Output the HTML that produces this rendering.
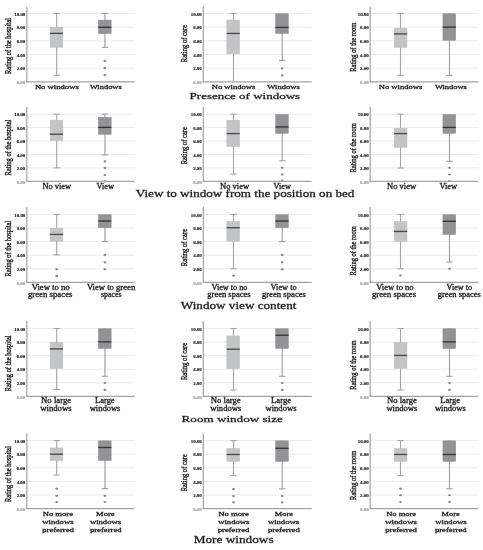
<!DOCTYPE html>
<html><head><meta charset="utf-8"><style>
html,body{margin:0;padding:0;background:#fff;}
svg{display:block;filter:blur(0.35px);}
text{font-family:"Liberation Serif", "DejaVu Serif", serif;}
</style></head><body>
<svg width="483" height="550" viewBox="0 0 483 550">
<rect width="483" height="550" fill="#fff"/>
<line x1="26.8" y1="68.14" x2="134.6" y2="68.14" stroke="#ebebeb" stroke-width="1"/>
<line x1="26.8" y1="54.48" x2="134.6" y2="54.48" stroke="#ebebeb" stroke-width="1"/>
<line x1="26.8" y1="40.82" x2="134.6" y2="40.82" stroke="#ebebeb" stroke-width="1"/>
<line x1="26.8" y1="27.16" x2="134.6" y2="27.16" stroke="#ebebeb" stroke-width="1"/>
<line x1="26.8" y1="13.5" x2="134.6" y2="13.5" stroke="#ebebeb" stroke-width="1"/>
<text x="25.3" y="84" font-size="4.9" font-weight="bold" fill="#a0a0a0" stroke="#a0a0a0" stroke-width="0.15" text-anchor="end" textLength="8.6" lengthAdjust="spacingAndGlyphs">0.00</text>
<text x="25.3" y="70.34" font-size="4.9" font-weight="bold" fill="#1e1e1e" stroke="#1e1e1e" stroke-width="0.15" text-anchor="end" textLength="8.6" lengthAdjust="spacingAndGlyphs">2.00</text>
<text x="25.3" y="56.68" font-size="4.9" font-weight="bold" fill="#1e1e1e" stroke="#1e1e1e" stroke-width="0.15" text-anchor="end" textLength="8.6" lengthAdjust="spacingAndGlyphs">4.00</text>
<text x="25.3" y="43.02" font-size="4.9" font-weight="bold" fill="#1e1e1e" stroke="#1e1e1e" stroke-width="0.15" text-anchor="end" textLength="8.6" lengthAdjust="spacingAndGlyphs">6.00</text>
<text x="25.3" y="29.36" font-size="4.9" font-weight="bold" fill="#1e1e1e" stroke="#1e1e1e" stroke-width="0.15" text-anchor="end" textLength="8.6" lengthAdjust="spacingAndGlyphs">8.00</text>
<text x="25.3" y="15.7" font-size="4.9" font-weight="bold" fill="#1e1e1e" stroke="#1e1e1e" stroke-width="0.15" text-anchor="end" textLength="11" lengthAdjust="spacingAndGlyphs">10.00</text>
<line x1="56.7" y1="13.5" x2="56.7" y2="75.38" stroke="#a4a4a4" stroke-width="1.1"/>
<line x1="53.5" y1="75.38" x2="59.9" y2="75.38" stroke="#a4a4a4" stroke-width="1.1"/>
<line x1="53.5" y1="13.5" x2="59.9" y2="13.5" stroke="#a4a4a4" stroke-width="1.1"/>
<rect x="50.15" y="27.27" width="12.7" height="19.99" fill="#c3c4c6" stroke="#bdbdbd" stroke-width="0.5"/>
<line x1="49.9" y1="33.38" x2="63.1" y2="33.38" stroke="#4a4a4a" stroke-width="1.35"/>
<line x1="104.9" y1="13.5" x2="104.9" y2="47.38" stroke="#9c9c9c" stroke-width="1.1"/>
<line x1="101.7" y1="47.38" x2="108.1" y2="47.38" stroke="#9c9c9c" stroke-width="1.1"/>
<line x1="101.7" y1="13.5" x2="108.1" y2="13.5" stroke="#9c9c9c" stroke-width="1.1"/>
<rect x="98.45" y="20.1" width="12.7" height="13.43" fill="#929397" stroke="#8c8c8c" stroke-width="0.5"/>
<line x1="98.2" y1="27.3" x2="111.4" y2="27.3" stroke="#363636" stroke-width="1.35"/>
<ellipse cx="104.9" cy="60.9" rx="1.45" ry="1.1" fill="#858585"/>
<ellipse cx="104.9" cy="68.21" rx="1.45" ry="1.1" fill="#858585"/>
<ellipse cx="104.9" cy="75.17" rx="1.45" ry="1.1" fill="#858585"/>
<line x1="26.8" y1="6.4" x2="26.8" y2="82.4" stroke="#a2a2a2" stroke-width="1.2"/>
<line x1="26.2" y1="81.8" x2="134.6" y2="81.8" stroke="#a2a2a2" stroke-width="1.2"/>
<text transform="translate(11.4,46.1) rotate(-90)" font-size="9" fill="#1a1a1a" stroke="#1a1a1a" stroke-width="0.35" text-anchor="middle" textLength="55.8" lengthAdjust="spacingAndGlyphs">Rating of the hospital</text>
<text x="34.9" y="88.7" font-size="7.0" fill="#1e1e1e" stroke="#1e1e1e" stroke-width="0.3" textLength="43.9" lengthAdjust="spacingAndGlyphs">No windows</text>
<text x="89.7" y="88.7" font-size="7.0" fill="#1e1e1e" stroke="#1e1e1e" stroke-width="0.3" textLength="32.1" lengthAdjust="spacingAndGlyphs">Windows</text>
<line x1="203.3" y1="68.14" x2="311.7" y2="68.14" stroke="#ebebeb" stroke-width="1"/>
<line x1="203.3" y1="54.48" x2="311.7" y2="54.48" stroke="#ebebeb" stroke-width="1"/>
<line x1="203.3" y1="40.82" x2="311.7" y2="40.82" stroke="#ebebeb" stroke-width="1"/>
<line x1="203.3" y1="27.16" x2="311.7" y2="27.16" stroke="#ebebeb" stroke-width="1"/>
<line x1="203.3" y1="13.5" x2="311.7" y2="13.5" stroke="#ebebeb" stroke-width="1"/>
<text x="201.8" y="84" font-size="4.9" font-weight="bold" fill="#a0a0a0" stroke="#a0a0a0" stroke-width="0.15" text-anchor="end" textLength="8.6" lengthAdjust="spacingAndGlyphs">0.00</text>
<text x="201.8" y="70.34" font-size="4.9" font-weight="bold" fill="#1e1e1e" stroke="#1e1e1e" stroke-width="0.15" text-anchor="end" textLength="8.6" lengthAdjust="spacingAndGlyphs">2.00</text>
<text x="201.8" y="56.68" font-size="4.9" font-weight="bold" fill="#1e1e1e" stroke="#1e1e1e" stroke-width="0.15" text-anchor="end" textLength="8.6" lengthAdjust="spacingAndGlyphs">4.00</text>
<text x="201.8" y="43.02" font-size="4.9" font-weight="bold" fill="#1e1e1e" stroke="#1e1e1e" stroke-width="0.15" text-anchor="end" textLength="8.6" lengthAdjust="spacingAndGlyphs">6.00</text>
<text x="201.8" y="29.36" font-size="4.9" font-weight="bold" fill="#1e1e1e" stroke="#1e1e1e" stroke-width="0.15" text-anchor="end" textLength="8.6" lengthAdjust="spacingAndGlyphs">8.00</text>
<text x="201.8" y="15.7" font-size="4.9" font-weight="bold" fill="#1e1e1e" stroke="#1e1e1e" stroke-width="0.15" text-anchor="end" textLength="11" lengthAdjust="spacingAndGlyphs">10.00</text>
<line x1="233.5" y1="13.5" x2="233.5" y2="81.8" stroke="#a4a4a4" stroke-width="1.1"/>
<line x1="230.3" y1="13.5" x2="236.7" y2="13.5" stroke="#a4a4a4" stroke-width="1.1"/>
<rect x="226.85" y="20.03" width="12.7" height="33.79" fill="#c3c4c6" stroke="#bdbdbd" stroke-width="0.5"/>
<line x1="226.6" y1="33.44" x2="239.8" y2="33.44" stroke="#4a4a4a" stroke-width="1.35"/>
<line x1="282.2" y1="13.5" x2="282.2" y2="60.42" stroke="#9c9c9c" stroke-width="1.1"/>
<line x1="279" y1="60.42" x2="285.4" y2="60.42" stroke="#9c9c9c" stroke-width="1.1"/>
<rect x="275.65" y="13.75" width="12.7" height="19.65" fill="#929397" stroke="#8c8c8c" stroke-width="0.5"/>
<line x1="275.4" y1="27.43" x2="288.6" y2="27.43" stroke="#363636" stroke-width="1.35"/>
<ellipse cx="282.2" cy="68.41" rx="1.45" ry="1.1" fill="#858585"/>
<ellipse cx="282.2" cy="75.38" rx="1.45" ry="1.1" fill="#858585"/>
<line x1="203.3" y1="6.4" x2="203.3" y2="82.4" stroke="#a2a2a2" stroke-width="1.2"/>
<line x1="202.7" y1="81.8" x2="311.7" y2="81.8" stroke="#a2a2a2" stroke-width="1.2"/>
<text transform="translate(186.9,43.65) rotate(-90)" font-size="9" fill="#1a1a1a" stroke="#1a1a1a" stroke-width="0.35" text-anchor="middle" textLength="37.2" lengthAdjust="spacingAndGlyphs">Rating of care</text>
<text x="211.7" y="88.7" font-size="7.0" fill="#1e1e1e" stroke="#1e1e1e" stroke-width="0.3" textLength="43.6" lengthAdjust="spacingAndGlyphs">No windows</text>
<text x="267.3" y="88.7" font-size="7.0" fill="#1e1e1e" stroke="#1e1e1e" stroke-width="0.3" textLength="32.6" lengthAdjust="spacingAndGlyphs">Windows</text>
<line x1="370.2" y1="68.14" x2="478.3" y2="68.14" stroke="#ebebeb" stroke-width="1"/>
<line x1="370.2" y1="54.48" x2="478.3" y2="54.48" stroke="#ebebeb" stroke-width="1"/>
<line x1="370.2" y1="40.82" x2="478.3" y2="40.82" stroke="#ebebeb" stroke-width="1"/>
<line x1="370.2" y1="27.16" x2="478.3" y2="27.16" stroke="#ebebeb" stroke-width="1"/>
<line x1="370.2" y1="13.5" x2="478.3" y2="13.5" stroke="#ebebeb" stroke-width="1"/>
<text x="368.7" y="84" font-size="4.9" font-weight="bold" fill="#a0a0a0" stroke="#a0a0a0" stroke-width="0.15" text-anchor="end" textLength="8.6" lengthAdjust="spacingAndGlyphs">0.00</text>
<text x="368.7" y="70.34" font-size="4.9" font-weight="bold" fill="#1e1e1e" stroke="#1e1e1e" stroke-width="0.15" text-anchor="end" textLength="8.6" lengthAdjust="spacingAndGlyphs">2.00</text>
<text x="368.7" y="56.68" font-size="4.9" font-weight="bold" fill="#1e1e1e" stroke="#1e1e1e" stroke-width="0.15" text-anchor="end" textLength="8.6" lengthAdjust="spacingAndGlyphs">4.00</text>
<text x="368.7" y="43.02" font-size="4.9" font-weight="bold" fill="#1e1e1e" stroke="#1e1e1e" stroke-width="0.15" text-anchor="end" textLength="8.6" lengthAdjust="spacingAndGlyphs">6.00</text>
<text x="368.7" y="29.36" font-size="4.9" font-weight="bold" fill="#1e1e1e" stroke="#1e1e1e" stroke-width="0.15" text-anchor="end" textLength="8.6" lengthAdjust="spacingAndGlyphs">8.00</text>
<text x="368.7" y="15.7" font-size="4.9" font-weight="bold" fill="#1e1e1e" stroke="#1e1e1e" stroke-width="0.15" text-anchor="end" textLength="11" lengthAdjust="spacingAndGlyphs">10.00</text>
<line x1="400.5" y1="13.5" x2="400.5" y2="75.38" stroke="#a4a4a4" stroke-width="1.1"/>
<line x1="397.3" y1="75.38" x2="403.7" y2="75.38" stroke="#a4a4a4" stroke-width="1.1"/>
<line x1="397.3" y1="13.5" x2="403.7" y2="13.5" stroke="#a4a4a4" stroke-width="1.1"/>
<rect x="394.25" y="28.09" width="12.7" height="19.44" fill="#c3c4c6" stroke="#bdbdbd" stroke-width="0.5"/>
<line x1="394" y1="33.92" x2="407.2" y2="33.92" stroke="#4a4a4a" stroke-width="1.35"/>
<line x1="449.5" y1="13.5" x2="449.5" y2="75.38" stroke="#9c9c9c" stroke-width="1.1"/>
<line x1="446.3" y1="75.38" x2="452.7" y2="75.38" stroke="#9c9c9c" stroke-width="1.1"/>
<rect x="442.95" y="13.75" width="12.7" height="26.62" fill="#929397" stroke="#8c8c8c" stroke-width="0.5"/>
<line x1="442.7" y1="27.16" x2="455.9" y2="27.16" stroke="#363636" stroke-width="1.35"/>
<line x1="370.2" y1="6.4" x2="370.2" y2="82.4" stroke="#a2a2a2" stroke-width="1.2"/>
<line x1="369.6" y1="81.8" x2="478.3" y2="81.8" stroke="#a2a2a2" stroke-width="1.2"/>
<text transform="translate(356.2,47.2) rotate(-90)" font-size="9" fill="#1a1a1a" stroke="#1a1a1a" stroke-width="0.35" text-anchor="middle" textLength="49.2" lengthAdjust="spacingAndGlyphs">Rating of the room</text>
<text x="378.7" y="88.7" font-size="7.0" fill="#1e1e1e" stroke="#1e1e1e" stroke-width="0.3" textLength="43.6" lengthAdjust="spacingAndGlyphs">No windows</text>
<text x="434.9" y="88.7" font-size="7.0" fill="#1e1e1e" stroke="#1e1e1e" stroke-width="0.3" textLength="32" lengthAdjust="spacingAndGlyphs">Windows</text>
<text x="189.6" y="98.7" font-size="9.1" fill="#1e1e1e" stroke="#1e1e1e" stroke-width="0.27" textLength="110.6" lengthAdjust="spacingAndGlyphs">Presence of windows</text>
<line x1="26.8" y1="167.88" x2="134.6" y2="167.88" stroke="#ebebeb" stroke-width="1"/>
<line x1="26.8" y1="154.46" x2="134.6" y2="154.46" stroke="#ebebeb" stroke-width="1"/>
<line x1="26.8" y1="141.04" x2="134.6" y2="141.04" stroke="#ebebeb" stroke-width="1"/>
<line x1="26.8" y1="127.62" x2="134.6" y2="127.62" stroke="#ebebeb" stroke-width="1"/>
<line x1="26.8" y1="114.2" x2="134.6" y2="114.2" stroke="#ebebeb" stroke-width="1"/>
<text x="25.3" y="183.5" font-size="4.9" font-weight="bold" fill="#a0a0a0" stroke="#a0a0a0" stroke-width="0.15" text-anchor="end" textLength="8.6" lengthAdjust="spacingAndGlyphs">0.00</text>
<text x="25.3" y="170.08" font-size="4.9" font-weight="bold" fill="#1e1e1e" stroke="#1e1e1e" stroke-width="0.15" text-anchor="end" textLength="8.6" lengthAdjust="spacingAndGlyphs">2.00</text>
<text x="25.3" y="156.66" font-size="4.9" font-weight="bold" fill="#1e1e1e" stroke="#1e1e1e" stroke-width="0.15" text-anchor="end" textLength="8.6" lengthAdjust="spacingAndGlyphs">4.00</text>
<text x="25.3" y="143.24" font-size="4.9" font-weight="bold" fill="#1e1e1e" stroke="#1e1e1e" stroke-width="0.15" text-anchor="end" textLength="8.6" lengthAdjust="spacingAndGlyphs">6.00</text>
<text x="25.3" y="129.82" font-size="4.9" font-weight="bold" fill="#1e1e1e" stroke="#1e1e1e" stroke-width="0.15" text-anchor="end" textLength="8.6" lengthAdjust="spacingAndGlyphs">8.00</text>
<text x="25.3" y="116.4" font-size="4.9" font-weight="bold" fill="#1e1e1e" stroke="#1e1e1e" stroke-width="0.15" text-anchor="end" textLength="11" lengthAdjust="spacingAndGlyphs">10.00</text>
<line x1="56.7" y1="114.2" x2="56.7" y2="167.88" stroke="#a4a4a4" stroke-width="1.1"/>
<line x1="53.5" y1="167.88" x2="59.9" y2="167.88" stroke="#a4a4a4" stroke-width="1.1"/>
<line x1="53.5" y1="114.2" x2="59.9" y2="114.2" stroke="#a4a4a4" stroke-width="1.1"/>
<rect x="50.15" y="120.15" width="12.7" height="20.5" fill="#c3c4c6" stroke="#bdbdbd" stroke-width="0.5"/>
<line x1="49.9" y1="134.2" x2="63.1" y2="134.2" stroke="#4a4a4a" stroke-width="1.35"/>
<line x1="104.9" y1="114.2" x2="104.9" y2="154.93" stroke="#9c9c9c" stroke-width="1.1"/>
<line x1="101.7" y1="154.93" x2="108.1" y2="154.93" stroke="#9c9c9c" stroke-width="1.1"/>
<line x1="101.7" y1="114.2" x2="108.1" y2="114.2" stroke="#9c9c9c" stroke-width="1.1"/>
<rect x="98.45" y="117.27" width="12.7" height="17.08" fill="#929397" stroke="#8c8c8c" stroke-width="0.5"/>
<line x1="98.2" y1="127.42" x2="111.4" y2="127.42" stroke="#363636" stroke-width="1.35"/>
<ellipse cx="104.9" cy="161.37" rx="1.45" ry="1.1" fill="#858585"/>
<ellipse cx="104.9" cy="167.88" rx="1.45" ry="1.1" fill="#858585"/>
<ellipse cx="104.9" cy="174.99" rx="1.45" ry="1.1" fill="#858585"/>
<ellipse cx="104.9" cy="181.3" rx="1.45" ry="1.1" fill="#858585"/>
<line x1="26.8" y1="107" x2="26.8" y2="181.9" stroke="#a2a2a2" stroke-width="1.2"/>
<line x1="26.2" y1="181.3" x2="134.6" y2="181.3" stroke="#a2a2a2" stroke-width="1.2"/>
<text transform="translate(11.4,147.55) rotate(-90)" font-size="9" fill="#1a1a1a" stroke="#1a1a1a" stroke-width="0.35" text-anchor="middle" textLength="55.8" lengthAdjust="spacingAndGlyphs">Rating of the hospital</text>
<text x="42.4" y="188.8" font-size="7.5" fill="#1e1e1e" stroke="#1e1e1e" stroke-width="0.3" textLength="28.6" lengthAdjust="spacingAndGlyphs">No view</text>
<text x="96.4" y="188.8" font-size="7.5" fill="#1e1e1e" stroke="#1e1e1e" stroke-width="0.3" textLength="17.5" lengthAdjust="spacingAndGlyphs">View</text>
<line x1="203.3" y1="167.88" x2="311.7" y2="167.88" stroke="#ebebeb" stroke-width="1"/>
<line x1="203.3" y1="154.46" x2="311.7" y2="154.46" stroke="#ebebeb" stroke-width="1"/>
<line x1="203.3" y1="141.04" x2="311.7" y2="141.04" stroke="#ebebeb" stroke-width="1"/>
<line x1="203.3" y1="127.62" x2="311.7" y2="127.62" stroke="#ebebeb" stroke-width="1"/>
<line x1="203.3" y1="114.2" x2="311.7" y2="114.2" stroke="#ebebeb" stroke-width="1"/>
<text x="201.8" y="183.5" font-size="4.9" font-weight="bold" fill="#a0a0a0" stroke="#a0a0a0" stroke-width="0.15" text-anchor="end" textLength="8.6" lengthAdjust="spacingAndGlyphs">0.00</text>
<text x="201.8" y="170.08" font-size="4.9" font-weight="bold" fill="#1e1e1e" stroke="#1e1e1e" stroke-width="0.15" text-anchor="end" textLength="8.6" lengthAdjust="spacingAndGlyphs">2.00</text>
<text x="201.8" y="156.66" font-size="4.9" font-weight="bold" fill="#1e1e1e" stroke="#1e1e1e" stroke-width="0.15" text-anchor="end" textLength="8.6" lengthAdjust="spacingAndGlyphs">4.00</text>
<text x="201.8" y="143.24" font-size="4.9" font-weight="bold" fill="#1e1e1e" stroke="#1e1e1e" stroke-width="0.15" text-anchor="end" textLength="8.6" lengthAdjust="spacingAndGlyphs">6.00</text>
<text x="201.8" y="129.82" font-size="4.9" font-weight="bold" fill="#1e1e1e" stroke="#1e1e1e" stroke-width="0.15" text-anchor="end" textLength="8.6" lengthAdjust="spacingAndGlyphs">8.00</text>
<text x="201.8" y="116.4" font-size="4.9" font-weight="bold" fill="#1e1e1e" stroke="#1e1e1e" stroke-width="0.15" text-anchor="end" textLength="11" lengthAdjust="spacingAndGlyphs">10.00</text>
<line x1="233.5" y1="114.2" x2="233.5" y2="173.99" stroke="#a4a4a4" stroke-width="1.1"/>
<line x1="230.3" y1="173.99" x2="236.7" y2="173.99" stroke="#a4a4a4" stroke-width="1.1"/>
<line x1="230.3" y1="114.2" x2="236.7" y2="114.2" stroke="#a4a4a4" stroke-width="1.1"/>
<rect x="226.85" y="120.22" width="12.7" height="26.34" fill="#c3c4c6" stroke="#bdbdbd" stroke-width="0.5"/>
<line x1="226.6" y1="133.59" x2="239.8" y2="133.59" stroke="#4a4a4a" stroke-width="1.35"/>
<line x1="282.2" y1="114.2" x2="282.2" y2="160.83" stroke="#9c9c9c" stroke-width="1.1"/>
<line x1="279" y1="160.83" x2="285.4" y2="160.83" stroke="#9c9c9c" stroke-width="1.1"/>
<rect x="275.65" y="114.45" width="12.7" height="18.89" fill="#929397" stroke="#8c8c8c" stroke-width="0.5"/>
<line x1="275.4" y1="126.95" x2="288.6" y2="126.95" stroke="#363636" stroke-width="1.35"/>
<ellipse cx="282.2" cy="167.81" rx="1.45" ry="1.1" fill="#858585"/>
<ellipse cx="282.2" cy="174.52" rx="1.45" ry="1.1" fill="#858585"/>
<ellipse cx="282.2" cy="180.7" rx="1.45" ry="1.1" fill="#858585"/>
<line x1="203.3" y1="107" x2="203.3" y2="181.9" stroke="#a2a2a2" stroke-width="1.2"/>
<line x1="202.7" y1="181.3" x2="311.7" y2="181.3" stroke="#a2a2a2" stroke-width="1.2"/>
<text transform="translate(186.9,145.7) rotate(-90)" font-size="9" fill="#1a1a1a" stroke="#1a1a1a" stroke-width="0.35" text-anchor="middle" textLength="37.2" lengthAdjust="spacingAndGlyphs">Rating of care</text>
<text x="220.1" y="188.8" font-size="7.5" fill="#1e1e1e" stroke="#1e1e1e" stroke-width="0.3" textLength="29" lengthAdjust="spacingAndGlyphs">No view</text>
<text x="273.6" y="188.8" font-size="7.5" fill="#1e1e1e" stroke="#1e1e1e" stroke-width="0.3" textLength="17.2" lengthAdjust="spacingAndGlyphs">View</text>
<line x1="370.2" y1="167.88" x2="478.3" y2="167.88" stroke="#ebebeb" stroke-width="1"/>
<line x1="370.2" y1="154.46" x2="478.3" y2="154.46" stroke="#ebebeb" stroke-width="1"/>
<line x1="370.2" y1="141.04" x2="478.3" y2="141.04" stroke="#ebebeb" stroke-width="1"/>
<line x1="370.2" y1="127.62" x2="478.3" y2="127.62" stroke="#ebebeb" stroke-width="1"/>
<line x1="370.2" y1="114.2" x2="478.3" y2="114.2" stroke="#ebebeb" stroke-width="1"/>
<text x="368.7" y="183.5" font-size="4.9" font-weight="bold" fill="#a0a0a0" stroke="#a0a0a0" stroke-width="0.15" text-anchor="end" textLength="8.6" lengthAdjust="spacingAndGlyphs">0.00</text>
<text x="368.7" y="170.08" font-size="4.9" font-weight="bold" fill="#1e1e1e" stroke="#1e1e1e" stroke-width="0.15" text-anchor="end" textLength="8.6" lengthAdjust="spacingAndGlyphs">2.00</text>
<text x="368.7" y="156.66" font-size="4.9" font-weight="bold" fill="#1e1e1e" stroke="#1e1e1e" stroke-width="0.15" text-anchor="end" textLength="8.6" lengthAdjust="spacingAndGlyphs">4.00</text>
<text x="368.7" y="143.24" font-size="4.9" font-weight="bold" fill="#1e1e1e" stroke="#1e1e1e" stroke-width="0.15" text-anchor="end" textLength="8.6" lengthAdjust="spacingAndGlyphs">6.00</text>
<text x="368.7" y="129.82" font-size="4.9" font-weight="bold" fill="#1e1e1e" stroke="#1e1e1e" stroke-width="0.15" text-anchor="end" textLength="8.6" lengthAdjust="spacingAndGlyphs">8.00</text>
<text x="368.7" y="116.4" font-size="4.9" font-weight="bold" fill="#1e1e1e" stroke="#1e1e1e" stroke-width="0.15" text-anchor="end" textLength="11" lengthAdjust="spacingAndGlyphs">10.00</text>
<line x1="400.5" y1="114.2" x2="400.5" y2="168.08" stroke="#a4a4a4" stroke-width="1.1"/>
<line x1="397.3" y1="168.08" x2="403.7" y2="168.08" stroke="#a4a4a4" stroke-width="1.1"/>
<line x1="397.3" y1="114.2" x2="403.7" y2="114.2" stroke="#a4a4a4" stroke-width="1.1"/>
<rect x="394.25" y="128.14" width="12.7" height="19.23" fill="#c3c4c6" stroke="#bdbdbd" stroke-width="0.5"/>
<line x1="394" y1="133.59" x2="407.2" y2="133.59" stroke="#4a4a4a" stroke-width="1.35"/>
<line x1="449.5" y1="114.2" x2="449.5" y2="161.3" stroke="#9c9c9c" stroke-width="1.1"/>
<line x1="446.3" y1="161.3" x2="452.7" y2="161.3" stroke="#9c9c9c" stroke-width="1.1"/>
<rect x="442.95" y="114.45" width="12.7" height="18.89" fill="#929397" stroke="#8c8c8c" stroke-width="0.5"/>
<line x1="442.7" y1="127.42" x2="455.9" y2="127.42" stroke="#363636" stroke-width="1.35"/>
<ellipse cx="449.5" cy="167.81" rx="1.45" ry="1.1" fill="#858585"/>
<ellipse cx="449.5" cy="174.52" rx="1.45" ry="1.1" fill="#858585"/>
<ellipse cx="449.5" cy="181.03" rx="1.45" ry="1.1" fill="#858585"/>
<line x1="370.2" y1="107" x2="370.2" y2="181.9" stroke="#a2a2a2" stroke-width="1.2"/>
<line x1="369.6" y1="181.3" x2="478.3" y2="181.3" stroke="#a2a2a2" stroke-width="1.2"/>
<text transform="translate(356.2,147.9) rotate(-90)" font-size="9" fill="#1a1a1a" stroke="#1a1a1a" stroke-width="0.35" text-anchor="middle" textLength="49.2" lengthAdjust="spacingAndGlyphs">Rating of the room</text>
<text x="387.1" y="188.8" font-size="7.5" fill="#1e1e1e" stroke="#1e1e1e" stroke-width="0.3" textLength="29" lengthAdjust="spacingAndGlyphs">No view</text>
<text x="439.5" y="188.8" font-size="7.5" fill="#1e1e1e" stroke="#1e1e1e" stroke-width="0.3" textLength="17.6" lengthAdjust="spacingAndGlyphs">View</text>
<text x="135.8" y="197.4" font-size="9.5" fill="#1e1e1e" stroke="#1e1e1e" stroke-width="0.27" textLength="218.6" lengthAdjust="spacingAndGlyphs">View to window from the position on bed</text>
<line x1="26.8" y1="268.74" x2="134.6" y2="268.74" stroke="#ebebeb" stroke-width="1"/>
<line x1="26.8" y1="255.18" x2="134.6" y2="255.18" stroke="#ebebeb" stroke-width="1"/>
<line x1="26.8" y1="241.62" x2="134.6" y2="241.62" stroke="#ebebeb" stroke-width="1"/>
<line x1="26.8" y1="228.06" x2="134.6" y2="228.06" stroke="#ebebeb" stroke-width="1"/>
<line x1="26.8" y1="214.5" x2="134.6" y2="214.5" stroke="#ebebeb" stroke-width="1"/>
<text x="25.3" y="284.5" font-size="4.9" font-weight="bold" fill="#a0a0a0" stroke="#a0a0a0" stroke-width="0.15" text-anchor="end" textLength="8.6" lengthAdjust="spacingAndGlyphs">0.00</text>
<text x="25.3" y="270.94" font-size="4.9" font-weight="bold" fill="#1e1e1e" stroke="#1e1e1e" stroke-width="0.15" text-anchor="end" textLength="8.6" lengthAdjust="spacingAndGlyphs">2.00</text>
<text x="25.3" y="257.38" font-size="4.9" font-weight="bold" fill="#1e1e1e" stroke="#1e1e1e" stroke-width="0.15" text-anchor="end" textLength="8.6" lengthAdjust="spacingAndGlyphs">4.00</text>
<text x="25.3" y="243.82" font-size="4.9" font-weight="bold" fill="#1e1e1e" stroke="#1e1e1e" stroke-width="0.15" text-anchor="end" textLength="8.6" lengthAdjust="spacingAndGlyphs">6.00</text>
<text x="25.3" y="230.26" font-size="4.9" font-weight="bold" fill="#1e1e1e" stroke="#1e1e1e" stroke-width="0.15" text-anchor="end" textLength="8.6" lengthAdjust="spacingAndGlyphs">8.00</text>
<text x="25.3" y="216.7" font-size="4.9" font-weight="bold" fill="#1e1e1e" stroke="#1e1e1e" stroke-width="0.15" text-anchor="end" textLength="11" lengthAdjust="spacingAndGlyphs">10.00</text>
<line x1="56.7" y1="214.5" x2="56.7" y2="254.91" stroke="#a4a4a4" stroke-width="1.1"/>
<line x1="53.5" y1="254.91" x2="59.9" y2="254.91" stroke="#a4a4a4" stroke-width="1.1"/>
<line x1="53.5" y1="214.5" x2="59.9" y2="214.5" stroke="#a4a4a4" stroke-width="1.1"/>
<rect x="50.15" y="228.17" width="12.7" height="12.99" fill="#c3c4c6" stroke="#bdbdbd" stroke-width="0.5"/>
<line x1="49.9" y1="234.43" x2="63.1" y2="234.43" stroke="#4a4a4a" stroke-width="1.35"/>
<ellipse cx="56.7" cy="269.28" rx="1.45" ry="1.1" fill="#858585"/>
<ellipse cx="56.7" cy="275.93" rx="1.45" ry="1.1" fill="#858585"/>
<line x1="104.9" y1="214.5" x2="104.9" y2="241.42" stroke="#9c9c9c" stroke-width="1.1"/>
<line x1="101.7" y1="241.42" x2="108.1" y2="241.42" stroke="#9c9c9c" stroke-width="1.1"/>
<rect x="98.45" y="214.75" width="12.7" height="12.92" fill="#929397" stroke="#8c8c8c" stroke-width="0.5"/>
<line x1="98.2" y1="221.01" x2="111.4" y2="221.01" stroke="#363636" stroke-width="1.35"/>
<ellipse cx="104.9" cy="254.91" rx="1.45" ry="1.1" fill="#858585"/>
<ellipse cx="104.9" cy="262.3" rx="1.45" ry="1.1" fill="#858585"/>
<ellipse cx="104.9" cy="269.28" rx="1.45" ry="1.1" fill="#858585"/>
<line x1="26.8" y1="207" x2="26.8" y2="282.9" stroke="#a2a2a2" stroke-width="1.2"/>
<line x1="26.2" y1="282.3" x2="134.6" y2="282.3" stroke="#a2a2a2" stroke-width="1.2"/>
<text transform="translate(11.4,248.65) rotate(-90)" font-size="9" fill="#1a1a1a" stroke="#1a1a1a" stroke-width="0.35" text-anchor="middle" textLength="55.8" lengthAdjust="spacingAndGlyphs">Rating of the hospital</text>
<text x="31.7" y="289.7" font-size="7.6" fill="#1e1e1e" stroke="#1e1e1e" stroke-width="0.3" textLength="38" lengthAdjust="spacingAndGlyphs">View to no</text>
<text x="27.9" y="297.1" font-size="7.6" fill="#1e1e1e" stroke="#1e1e1e" stroke-width="0.3" textLength="44.6" lengthAdjust="spacingAndGlyphs">green spaces</text>
<text x="86.9" y="289.7" font-size="7.6" fill="#1e1e1e" stroke="#1e1e1e" stroke-width="0.3" textLength="48.3" lengthAdjust="spacingAndGlyphs">View to green</text>
<text x="101" y="297.1" font-size="7.6" fill="#1e1e1e" stroke="#1e1e1e" stroke-width="0.3" textLength="20.6" lengthAdjust="spacingAndGlyphs">spaces</text>
<line x1="203.3" y1="268.74" x2="311.7" y2="268.74" stroke="#ebebeb" stroke-width="1"/>
<line x1="203.3" y1="255.18" x2="311.7" y2="255.18" stroke="#ebebeb" stroke-width="1"/>
<line x1="203.3" y1="241.62" x2="311.7" y2="241.62" stroke="#ebebeb" stroke-width="1"/>
<line x1="203.3" y1="228.06" x2="311.7" y2="228.06" stroke="#ebebeb" stroke-width="1"/>
<line x1="203.3" y1="214.5" x2="311.7" y2="214.5" stroke="#ebebeb" stroke-width="1"/>
<text x="201.8" y="284.5" font-size="4.9" font-weight="bold" fill="#a0a0a0" stroke="#a0a0a0" stroke-width="0.15" text-anchor="end" textLength="8.6" lengthAdjust="spacingAndGlyphs">0.00</text>
<text x="201.8" y="270.94" font-size="4.9" font-weight="bold" fill="#1e1e1e" stroke="#1e1e1e" stroke-width="0.15" text-anchor="end" textLength="8.6" lengthAdjust="spacingAndGlyphs">2.00</text>
<text x="201.8" y="257.38" font-size="4.9" font-weight="bold" fill="#1e1e1e" stroke="#1e1e1e" stroke-width="0.15" text-anchor="end" textLength="8.6" lengthAdjust="spacingAndGlyphs">4.00</text>
<text x="201.8" y="243.82" font-size="4.9" font-weight="bold" fill="#1e1e1e" stroke="#1e1e1e" stroke-width="0.15" text-anchor="end" textLength="8.6" lengthAdjust="spacingAndGlyphs">6.00</text>
<text x="201.8" y="230.26" font-size="4.9" font-weight="bold" fill="#1e1e1e" stroke="#1e1e1e" stroke-width="0.15" text-anchor="end" textLength="8.6" lengthAdjust="spacingAndGlyphs">8.00</text>
<text x="201.8" y="216.7" font-size="4.9" font-weight="bold" fill="#1e1e1e" stroke="#1e1e1e" stroke-width="0.15" text-anchor="end" textLength="11" lengthAdjust="spacingAndGlyphs">10.00</text>
<line x1="233.5" y1="214.5" x2="233.5" y2="268.74" stroke="#a4a4a4" stroke-width="1.1"/>
<line x1="230.3" y1="268.74" x2="236.7" y2="268.74" stroke="#a4a4a4" stroke-width="1.1"/>
<line x1="230.3" y1="214.5" x2="236.7" y2="214.5" stroke="#a4a4a4" stroke-width="1.1"/>
<rect x="226.85" y="221.46" width="12.7" height="19.7" fill="#c3c4c6" stroke="#bdbdbd" stroke-width="0.5"/>
<line x1="226.6" y1="227.72" x2="239.8" y2="227.72" stroke="#4a4a4a" stroke-width="1.35"/>
<ellipse cx="233.5" cy="275.59" rx="1.45" ry="1.1" fill="#858585"/>
<line x1="282.2" y1="214.5" x2="282.2" y2="241.42" stroke="#9c9c9c" stroke-width="1.1"/>
<line x1="279" y1="241.42" x2="285.4" y2="241.42" stroke="#9c9c9c" stroke-width="1.1"/>
<rect x="275.65" y="214.75" width="12.7" height="12.92" fill="#929397" stroke="#8c8c8c" stroke-width="0.5"/>
<line x1="275.4" y1="221.01" x2="288.6" y2="221.01" stroke="#363636" stroke-width="1.35"/>
<ellipse cx="282.2" cy="254.91" rx="1.45" ry="1.1" fill="#858585"/>
<ellipse cx="282.2" cy="262.3" rx="1.45" ry="1.1" fill="#858585"/>
<ellipse cx="282.2" cy="269.28" rx="1.45" ry="1.1" fill="#858585"/>
<line x1="203.3" y1="207" x2="203.3" y2="282.9" stroke="#a2a2a2" stroke-width="1.2"/>
<line x1="202.7" y1="282.3" x2="311.7" y2="282.3" stroke="#a2a2a2" stroke-width="1.2"/>
<text transform="translate(186.9,247.55) rotate(-90)" font-size="9" fill="#1a1a1a" stroke="#1a1a1a" stroke-width="0.35" text-anchor="middle" textLength="37.2" lengthAdjust="spacingAndGlyphs">Rating of care</text>
<text x="211.5" y="289.7" font-size="7.6" fill="#1e1e1e" stroke="#1e1e1e" stroke-width="0.3" textLength="35.9" lengthAdjust="spacingAndGlyphs">View to no</text>
<text x="207.3" y="297.1" font-size="7.6" fill="#1e1e1e" stroke="#1e1e1e" stroke-width="0.3" textLength="43.3" lengthAdjust="spacingAndGlyphs">green spaces</text>
<text x="270.6" y="289.7" font-size="7.6" fill="#1e1e1e" stroke="#1e1e1e" stroke-width="0.3" textLength="26" lengthAdjust="spacingAndGlyphs">View to</text>
<text x="261.9" y="297.1" font-size="7.6" fill="#1e1e1e" stroke="#1e1e1e" stroke-width="0.3" textLength="44.1" lengthAdjust="spacingAndGlyphs">green spaces</text>
<line x1="370.2" y1="268.74" x2="478.3" y2="268.74" stroke="#ebebeb" stroke-width="1"/>
<line x1="370.2" y1="255.18" x2="478.3" y2="255.18" stroke="#ebebeb" stroke-width="1"/>
<line x1="370.2" y1="241.62" x2="478.3" y2="241.62" stroke="#ebebeb" stroke-width="1"/>
<line x1="370.2" y1="228.06" x2="478.3" y2="228.06" stroke="#ebebeb" stroke-width="1"/>
<line x1="370.2" y1="214.5" x2="478.3" y2="214.5" stroke="#ebebeb" stroke-width="1"/>
<text x="368.7" y="284.5" font-size="4.9" font-weight="bold" fill="#a0a0a0" stroke="#a0a0a0" stroke-width="0.15" text-anchor="end" textLength="8.6" lengthAdjust="spacingAndGlyphs">0.00</text>
<text x="368.7" y="270.94" font-size="4.9" font-weight="bold" fill="#1e1e1e" stroke="#1e1e1e" stroke-width="0.15" text-anchor="end" textLength="8.6" lengthAdjust="spacingAndGlyphs">2.00</text>
<text x="368.7" y="257.38" font-size="4.9" font-weight="bold" fill="#1e1e1e" stroke="#1e1e1e" stroke-width="0.15" text-anchor="end" textLength="8.6" lengthAdjust="spacingAndGlyphs">4.00</text>
<text x="368.7" y="243.82" font-size="4.9" font-weight="bold" fill="#1e1e1e" stroke="#1e1e1e" stroke-width="0.15" text-anchor="end" textLength="8.6" lengthAdjust="spacingAndGlyphs">6.00</text>
<text x="368.7" y="230.26" font-size="4.9" font-weight="bold" fill="#1e1e1e" stroke="#1e1e1e" stroke-width="0.15" text-anchor="end" textLength="8.6" lengthAdjust="spacingAndGlyphs">8.00</text>
<text x="368.7" y="216.7" font-size="4.9" font-weight="bold" fill="#1e1e1e" stroke="#1e1e1e" stroke-width="0.15" text-anchor="end" textLength="11" lengthAdjust="spacingAndGlyphs">10.00</text>
<line x1="400.5" y1="214.5" x2="400.5" y2="268.74" stroke="#a4a4a4" stroke-width="1.1"/>
<line x1="397.3" y1="268.74" x2="403.7" y2="268.74" stroke="#a4a4a4" stroke-width="1.1"/>
<line x1="397.3" y1="214.5" x2="403.7" y2="214.5" stroke="#a4a4a4" stroke-width="1.1"/>
<rect x="394.25" y="221.53" width="12.7" height="19.84" fill="#c3c4c6" stroke="#bdbdbd" stroke-width="0.5"/>
<line x1="394" y1="231.45" x2="407.2" y2="231.45" stroke="#4a4a4a" stroke-width="1.35"/>
<ellipse cx="400.5" cy="275.52" rx="1.45" ry="1.1" fill="#858585"/>
<line x1="449.5" y1="214.5" x2="449.5" y2="261.96" stroke="#9c9c9c" stroke-width="1.1"/>
<line x1="446.3" y1="261.96" x2="452.7" y2="261.96" stroke="#9c9c9c" stroke-width="1.1"/>
<rect x="442.95" y="214.75" width="12.7" height="19.84" fill="#929397" stroke="#8c8c8c" stroke-width="0.5"/>
<line x1="442.7" y1="221.28" x2="455.9" y2="221.28" stroke="#363636" stroke-width="1.35"/>
<ellipse cx="449.5" cy="268.74" rx="1.45" ry="1.1" fill="#858585"/>
<line x1="370.2" y1="207" x2="370.2" y2="282.9" stroke="#a2a2a2" stroke-width="1.2"/>
<line x1="369.6" y1="282.3" x2="478.3" y2="282.3" stroke="#a2a2a2" stroke-width="1.2"/>
<text transform="translate(356.2,250.8) rotate(-90)" font-size="9" fill="#1a1a1a" stroke="#1a1a1a" stroke-width="0.35" text-anchor="middle" textLength="49.2" lengthAdjust="spacingAndGlyphs">Rating of the room</text>
<text x="376.2" y="289.7" font-size="7.6" fill="#1e1e1e" stroke="#1e1e1e" stroke-width="0.3" textLength="37.4" lengthAdjust="spacingAndGlyphs">View to no</text>
<text x="372" y="297.1" font-size="7.6" fill="#1e1e1e" stroke="#1e1e1e" stroke-width="0.3" textLength="44.1" lengthAdjust="spacingAndGlyphs">green spaces</text>
<text x="446.5" y="289.7" font-size="7.6" fill="#1e1e1e" stroke="#1e1e1e" stroke-width="0.3" textLength="25.5" lengthAdjust="spacingAndGlyphs">View to</text>
<text x="437.8" y="297.1" font-size="7.6" fill="#1e1e1e" stroke="#1e1e1e" stroke-width="0.3" textLength="42.9" lengthAdjust="spacingAndGlyphs">green spaces</text>
<text x="180.8" y="308.8" font-size="9.4" fill="#1e1e1e" stroke="#1e1e1e" stroke-width="0.27" textLength="115.6" lengthAdjust="spacingAndGlyphs">Window view content</text>
<line x1="26.8" y1="382.74" x2="134.6" y2="382.74" stroke="#ebebeb" stroke-width="1"/>
<line x1="26.8" y1="369.18" x2="134.6" y2="369.18" stroke="#ebebeb" stroke-width="1"/>
<line x1="26.8" y1="355.62" x2="134.6" y2="355.62" stroke="#ebebeb" stroke-width="1"/>
<line x1="26.8" y1="342.06" x2="134.6" y2="342.06" stroke="#ebebeb" stroke-width="1"/>
<line x1="26.8" y1="328.5" x2="134.6" y2="328.5" stroke="#ebebeb" stroke-width="1"/>
<text x="25.3" y="398.5" font-size="4.9" font-weight="bold" fill="#a0a0a0" stroke="#a0a0a0" stroke-width="0.15" text-anchor="end" textLength="8.6" lengthAdjust="spacingAndGlyphs">0.00</text>
<text x="25.3" y="384.94" font-size="4.9" font-weight="bold" fill="#1e1e1e" stroke="#1e1e1e" stroke-width="0.15" text-anchor="end" textLength="8.6" lengthAdjust="spacingAndGlyphs">2.00</text>
<text x="25.3" y="371.38" font-size="4.9" font-weight="bold" fill="#1e1e1e" stroke="#1e1e1e" stroke-width="0.15" text-anchor="end" textLength="8.6" lengthAdjust="spacingAndGlyphs">4.00</text>
<text x="25.3" y="357.82" font-size="4.9" font-weight="bold" fill="#1e1e1e" stroke="#1e1e1e" stroke-width="0.15" text-anchor="end" textLength="8.6" lengthAdjust="spacingAndGlyphs">6.00</text>
<text x="25.3" y="344.26" font-size="4.9" font-weight="bold" fill="#1e1e1e" stroke="#1e1e1e" stroke-width="0.15" text-anchor="end" textLength="8.6" lengthAdjust="spacingAndGlyphs">8.00</text>
<text x="25.3" y="330.7" font-size="4.9" font-weight="bold" fill="#1e1e1e" stroke="#1e1e1e" stroke-width="0.15" text-anchor="end" textLength="11" lengthAdjust="spacingAndGlyphs">10.00</text>
<line x1="56.7" y1="328.5" x2="56.7" y2="389.45" stroke="#a4a4a4" stroke-width="1.1"/>
<line x1="53.5" y1="389.45" x2="59.9" y2="389.45" stroke="#a4a4a4" stroke-width="1.1"/>
<line x1="53.5" y1="328.5" x2="59.9" y2="328.5" stroke="#a4a4a4" stroke-width="1.1"/>
<rect x="50.15" y="342.31" width="12.7" height="26.15" fill="#c3c4c6" stroke="#bdbdbd" stroke-width="0.5"/>
<line x1="49.9" y1="348.91" x2="63.1" y2="348.91" stroke="#4a4a4a" stroke-width="1.35"/>
<line x1="104.9" y1="328.5" x2="104.9" y2="376.3" stroke="#9c9c9c" stroke-width="1.1"/>
<line x1="101.7" y1="376.3" x2="108.1" y2="376.3" stroke="#9c9c9c" stroke-width="1.1"/>
<rect x="98.45" y="328.75" width="12.7" height="19.7" fill="#929397" stroke="#8c8c8c" stroke-width="0.5"/>
<line x1="98.2" y1="341.92" x2="111.4" y2="341.92" stroke="#363636" stroke-width="1.35"/>
<ellipse cx="104.9" cy="383.01" rx="1.45" ry="1.1" fill="#858585"/>
<ellipse cx="104.9" cy="389.93" rx="1.45" ry="1.1" fill="#858585"/>
<line x1="26.8" y1="321" x2="26.8" y2="396.9" stroke="#a2a2a2" stroke-width="1.2"/>
<line x1="26.2" y1="396.3" x2="134.6" y2="396.3" stroke="#a2a2a2" stroke-width="1.2"/>
<text transform="translate(11.4,363.3) rotate(-90)" font-size="9" fill="#1a1a1a" stroke="#1a1a1a" stroke-width="0.35" text-anchor="middle" textLength="55.8" lengthAdjust="spacingAndGlyphs">Rating of the hospital</text>
<text x="41.1" y="403.4" font-size="7.4" fill="#1e1e1e" stroke="#1e1e1e" stroke-width="0.3" textLength="30" lengthAdjust="spacingAndGlyphs">No large</text>
<text x="40.2" y="410.8" font-size="7.4" fill="#1e1e1e" stroke="#1e1e1e" stroke-width="0.3" textLength="31.5" lengthAdjust="spacingAndGlyphs">windows</text>
<text x="95.1" y="403.4" font-size="7.4" fill="#1e1e1e" stroke="#1e1e1e" stroke-width="0.3" textLength="19.5" lengthAdjust="spacingAndGlyphs">Large</text>
<text x="89.7" y="410.8" font-size="7.4" fill="#1e1e1e" stroke="#1e1e1e" stroke-width="0.3" textLength="30.7" lengthAdjust="spacingAndGlyphs">windows</text>
<line x1="203.3" y1="382.74" x2="311.7" y2="382.74" stroke="#ebebeb" stroke-width="1"/>
<line x1="203.3" y1="369.18" x2="311.7" y2="369.18" stroke="#ebebeb" stroke-width="1"/>
<line x1="203.3" y1="355.62" x2="311.7" y2="355.62" stroke="#ebebeb" stroke-width="1"/>
<line x1="203.3" y1="342.06" x2="311.7" y2="342.06" stroke="#ebebeb" stroke-width="1"/>
<line x1="203.3" y1="328.5" x2="311.7" y2="328.5" stroke="#ebebeb" stroke-width="1"/>
<text x="201.8" y="398.5" font-size="4.9" font-weight="bold" fill="#a0a0a0" stroke="#a0a0a0" stroke-width="0.15" text-anchor="end" textLength="8.6" lengthAdjust="spacingAndGlyphs">0.00</text>
<text x="201.8" y="384.94" font-size="4.9" font-weight="bold" fill="#1e1e1e" stroke="#1e1e1e" stroke-width="0.15" text-anchor="end" textLength="8.6" lengthAdjust="spacingAndGlyphs">2.00</text>
<text x="201.8" y="371.38" font-size="4.9" font-weight="bold" fill="#1e1e1e" stroke="#1e1e1e" stroke-width="0.15" text-anchor="end" textLength="8.6" lengthAdjust="spacingAndGlyphs">4.00</text>
<text x="201.8" y="357.82" font-size="4.9" font-weight="bold" fill="#1e1e1e" stroke="#1e1e1e" stroke-width="0.15" text-anchor="end" textLength="8.6" lengthAdjust="spacingAndGlyphs">6.00</text>
<text x="201.8" y="344.26" font-size="4.9" font-weight="bold" fill="#1e1e1e" stroke="#1e1e1e" stroke-width="0.15" text-anchor="end" textLength="8.6" lengthAdjust="spacingAndGlyphs">8.00</text>
<text x="201.8" y="330.7" font-size="4.9" font-weight="bold" fill="#1e1e1e" stroke="#1e1e1e" stroke-width="0.15" text-anchor="end" textLength="11" lengthAdjust="spacingAndGlyphs">10.00</text>
<line x1="233.5" y1="328.5" x2="233.5" y2="389.93" stroke="#a4a4a4" stroke-width="1.1"/>
<line x1="230.3" y1="389.93" x2="236.7" y2="389.93" stroke="#a4a4a4" stroke-width="1.1"/>
<line x1="230.3" y1="328.5" x2="236.7" y2="328.5" stroke="#a4a4a4" stroke-width="1.1"/>
<rect x="226.85" y="335.94" width="12.7" height="32.79" fill="#c3c4c6" stroke="#bdbdbd" stroke-width="0.5"/>
<line x1="226.6" y1="349.18" x2="239.8" y2="349.18" stroke="#4a4a4a" stroke-width="1.35"/>
<line x1="282.2" y1="328.5" x2="282.2" y2="376.3" stroke="#9c9c9c" stroke-width="1.1"/>
<line x1="279" y1="376.3" x2="285.4" y2="376.3" stroke="#9c9c9c" stroke-width="1.1"/>
<rect x="275.65" y="328.75" width="12.7" height="19.7" fill="#929397" stroke="#8c8c8c" stroke-width="0.5"/>
<line x1="275.4" y1="335.21" x2="288.6" y2="335.21" stroke="#363636" stroke-width="1.35"/>
<ellipse cx="282.2" cy="383.01" rx="1.45" ry="1.1" fill="#858585"/>
<ellipse cx="282.2" cy="389.93" rx="1.45" ry="1.1" fill="#858585"/>
<line x1="203.3" y1="321" x2="203.3" y2="396.9" stroke="#a2a2a2" stroke-width="1.2"/>
<line x1="202.7" y1="396.3" x2="311.7" y2="396.3" stroke="#a2a2a2" stroke-width="1.2"/>
<text transform="translate(186.9,361.45) rotate(-90)" font-size="9" fill="#1a1a1a" stroke="#1a1a1a" stroke-width="0.35" text-anchor="middle" textLength="37.2" lengthAdjust="spacingAndGlyphs">Rating of care</text>
<text x="210.7" y="403.4" font-size="7.4" fill="#1e1e1e" stroke="#1e1e1e" stroke-width="0.3" textLength="30" lengthAdjust="spacingAndGlyphs">No large</text>
<text x="210.2" y="410.8" font-size="7.4" fill="#1e1e1e" stroke="#1e1e1e" stroke-width="0.3" textLength="31.2" lengthAdjust="spacingAndGlyphs">windows</text>
<text x="271.1" y="403.4" font-size="7.4" fill="#1e1e1e" stroke="#1e1e1e" stroke-width="0.3" textLength="20" lengthAdjust="spacingAndGlyphs">Large</text>
<text x="265.4" y="410.8" font-size="7.4" fill="#1e1e1e" stroke="#1e1e1e" stroke-width="0.3" textLength="31.2" lengthAdjust="spacingAndGlyphs">windows</text>
<line x1="370.2" y1="382.74" x2="478.3" y2="382.74" stroke="#ebebeb" stroke-width="1"/>
<line x1="370.2" y1="369.18" x2="478.3" y2="369.18" stroke="#ebebeb" stroke-width="1"/>
<line x1="370.2" y1="355.62" x2="478.3" y2="355.62" stroke="#ebebeb" stroke-width="1"/>
<line x1="370.2" y1="342.06" x2="478.3" y2="342.06" stroke="#ebebeb" stroke-width="1"/>
<line x1="370.2" y1="328.5" x2="478.3" y2="328.5" stroke="#ebebeb" stroke-width="1"/>
<text x="368.7" y="398.5" font-size="4.9" font-weight="bold" fill="#a0a0a0" stroke="#a0a0a0" stroke-width="0.15" text-anchor="end" textLength="8.6" lengthAdjust="spacingAndGlyphs">0.00</text>
<text x="368.7" y="384.94" font-size="4.9" font-weight="bold" fill="#1e1e1e" stroke="#1e1e1e" stroke-width="0.15" text-anchor="end" textLength="8.6" lengthAdjust="spacingAndGlyphs">2.00</text>
<text x="368.7" y="371.38" font-size="4.9" font-weight="bold" fill="#1e1e1e" stroke="#1e1e1e" stroke-width="0.15" text-anchor="end" textLength="8.6" lengthAdjust="spacingAndGlyphs">4.00</text>
<text x="368.7" y="357.82" font-size="4.9" font-weight="bold" fill="#1e1e1e" stroke="#1e1e1e" stroke-width="0.15" text-anchor="end" textLength="8.6" lengthAdjust="spacingAndGlyphs">6.00</text>
<text x="368.7" y="344.26" font-size="4.9" font-weight="bold" fill="#1e1e1e" stroke="#1e1e1e" stroke-width="0.15" text-anchor="end" textLength="8.6" lengthAdjust="spacingAndGlyphs">8.00</text>
<text x="368.7" y="330.7" font-size="4.9" font-weight="bold" fill="#1e1e1e" stroke="#1e1e1e" stroke-width="0.15" text-anchor="end" textLength="11" lengthAdjust="spacingAndGlyphs">10.00</text>
<line x1="400.5" y1="328.5" x2="400.5" y2="389.93" stroke="#a4a4a4" stroke-width="1.1"/>
<line x1="397.3" y1="389.93" x2="403.7" y2="389.93" stroke="#a4a4a4" stroke-width="1.1"/>
<line x1="397.3" y1="328.5" x2="403.7" y2="328.5" stroke="#a4a4a4" stroke-width="1.1"/>
<rect x="394.25" y="342.45" width="12.7" height="25.87" fill="#c3c4c6" stroke="#bdbdbd" stroke-width="0.5"/>
<line x1="394" y1="355.42" x2="407.2" y2="355.42" stroke="#4a4a4a" stroke-width="1.35"/>
<line x1="449.5" y1="328.5" x2="449.5" y2="376.3" stroke="#9c9c9c" stroke-width="1.1"/>
<line x1="446.3" y1="376.3" x2="452.7" y2="376.3" stroke="#9c9c9c" stroke-width="1.1"/>
<rect x="442.95" y="328.75" width="12.7" height="19.7" fill="#929397" stroke="#8c8c8c" stroke-width="0.5"/>
<line x1="442.7" y1="341.92" x2="455.9" y2="341.92" stroke="#363636" stroke-width="1.35"/>
<ellipse cx="449.5" cy="383.01" rx="1.45" ry="1.1" fill="#858585"/>
<ellipse cx="449.5" cy="389.93" rx="1.45" ry="1.1" fill="#858585"/>
<line x1="370.2" y1="321" x2="370.2" y2="396.9" stroke="#a2a2a2" stroke-width="1.2"/>
<line x1="369.6" y1="396.3" x2="478.3" y2="396.3" stroke="#a2a2a2" stroke-width="1.2"/>
<text transform="translate(356.2,365.1) rotate(-90)" font-size="9" fill="#1a1a1a" stroke="#1a1a1a" stroke-width="0.35" text-anchor="middle" textLength="49.2" lengthAdjust="spacingAndGlyphs">Rating of the room</text>
<text x="386.9" y="403.4" font-size="7.4" fill="#1e1e1e" stroke="#1e1e1e" stroke-width="0.3" textLength="30" lengthAdjust="spacingAndGlyphs">No large</text>
<text x="386.4" y="410.8" font-size="7.4" fill="#1e1e1e" stroke="#1e1e1e" stroke-width="0.3" textLength="31" lengthAdjust="spacingAndGlyphs">windows</text>
<text x="440.3" y="403.4" font-size="7.4" fill="#1e1e1e" stroke="#1e1e1e" stroke-width="0.3" textLength="19.8" lengthAdjust="spacingAndGlyphs">Large</text>
<text x="434.9" y="410.8" font-size="7.4" fill="#1e1e1e" stroke="#1e1e1e" stroke-width="0.3" textLength="30.9" lengthAdjust="spacingAndGlyphs">windows</text>
<text x="181.6" y="421.7" font-size="9.1" fill="#1e1e1e" stroke="#1e1e1e" stroke-width="0.27" textLength="101.3" lengthAdjust="spacingAndGlyphs">Room window size</text>
<line x1="26.8" y1="495" x2="134.6" y2="495" stroke="#ebebeb" stroke-width="1"/>
<line x1="26.8" y1="481.4" x2="134.6" y2="481.4" stroke="#ebebeb" stroke-width="1"/>
<line x1="26.8" y1="467.8" x2="134.6" y2="467.8" stroke="#ebebeb" stroke-width="1"/>
<line x1="26.8" y1="454.2" x2="134.6" y2="454.2" stroke="#ebebeb" stroke-width="1"/>
<line x1="26.8" y1="440.6" x2="134.6" y2="440.6" stroke="#ebebeb" stroke-width="1"/>
<text x="25.3" y="510.8" font-size="4.9" font-weight="bold" fill="#a0a0a0" stroke="#a0a0a0" stroke-width="0.15" text-anchor="end" textLength="8.6" lengthAdjust="spacingAndGlyphs">0.00</text>
<text x="25.3" y="497.2" font-size="4.9" font-weight="bold" fill="#1e1e1e" stroke="#1e1e1e" stroke-width="0.15" text-anchor="end" textLength="8.6" lengthAdjust="spacingAndGlyphs">2.00</text>
<text x="25.3" y="483.6" font-size="4.9" font-weight="bold" fill="#1e1e1e" stroke="#1e1e1e" stroke-width="0.15" text-anchor="end" textLength="8.6" lengthAdjust="spacingAndGlyphs">4.00</text>
<text x="25.3" y="470" font-size="4.9" font-weight="bold" fill="#1e1e1e" stroke="#1e1e1e" stroke-width="0.15" text-anchor="end" textLength="8.6" lengthAdjust="spacingAndGlyphs">6.00</text>
<text x="25.3" y="456.4" font-size="4.9" font-weight="bold" fill="#1e1e1e" stroke="#1e1e1e" stroke-width="0.15" text-anchor="end" textLength="8.6" lengthAdjust="spacingAndGlyphs">8.00</text>
<text x="25.3" y="442.8" font-size="4.9" font-weight="bold" fill="#1e1e1e" stroke="#1e1e1e" stroke-width="0.15" text-anchor="end" textLength="11" lengthAdjust="spacingAndGlyphs">10.00</text>
<line x1="56.7" y1="440.6" x2="56.7" y2="475.08" stroke="#a4a4a4" stroke-width="1.1"/>
<line x1="53.5" y1="475.08" x2="59.9" y2="475.08" stroke="#a4a4a4" stroke-width="1.1"/>
<line x1="53.5" y1="440.6" x2="59.9" y2="440.6" stroke="#a4a4a4" stroke-width="1.1"/>
<rect x="50.15" y="447.92" width="12.7" height="12.56" fill="#c3c4c6" stroke="#bdbdbd" stroke-width="0.5"/>
<line x1="49.9" y1="454.2" x2="63.1" y2="454.2" stroke="#4a4a4a" stroke-width="1.35"/>
<ellipse cx="56.7" cy="488.68" rx="1.45" ry="1.1" fill="#858585"/>
<ellipse cx="56.7" cy="495.82" rx="1.45" ry="1.1" fill="#858585"/>
<ellipse cx="56.7" cy="502" rx="1.45" ry="1.1" fill="#858585"/>
<line x1="104.9" y1="440.6" x2="104.9" y2="488.68" stroke="#9c9c9c" stroke-width="1.1"/>
<line x1="101.7" y1="488.68" x2="108.1" y2="488.68" stroke="#9c9c9c" stroke-width="1.1"/>
<rect x="98.45" y="440.85" width="12.7" height="19.63" fill="#929397" stroke="#8c8c8c" stroke-width="0.5"/>
<line x1="98.2" y1="447.47" x2="111.4" y2="447.47" stroke="#363636" stroke-width="1.35"/>
<ellipse cx="104.9" cy="495.82" rx="1.45" ry="1.1" fill="#858585"/>
<ellipse cx="104.9" cy="502" rx="1.45" ry="1.1" fill="#858585"/>
<line x1="26.8" y1="433.4" x2="26.8" y2="509.2" stroke="#a2a2a2" stroke-width="1.2"/>
<line x1="26.2" y1="508.6" x2="134.6" y2="508.6" stroke="#a2a2a2" stroke-width="1.2"/>
<text transform="translate(11.4,474.15) rotate(-90)" font-size="9" fill="#1a1a1a" stroke="#1a1a1a" stroke-width="0.35" text-anchor="middle" textLength="55.8" lengthAdjust="spacingAndGlyphs">Rating of the hospital</text>
<text x="42.7" y="516.3" font-size="7.0" fill="#1e1e1e" stroke="#1e1e1e" stroke-width="0.3" textLength="30.4" lengthAdjust="spacingAndGlyphs">No more</text>
<text x="42.2" y="524.3" font-size="7.0" fill="#1e1e1e" stroke="#1e1e1e" stroke-width="0.3" textLength="31.4" lengthAdjust="spacingAndGlyphs">windows</text>
<text x="42.2" y="531.8" font-size="7.0" fill="#1e1e1e" stroke="#1e1e1e" stroke-width="0.3" textLength="31.7" lengthAdjust="spacingAndGlyphs">preferred</text>
<text x="96.1" y="516.3" font-size="7.0" fill="#1e1e1e" stroke="#1e1e1e" stroke-width="0.3" textLength="18.5" lengthAdjust="spacingAndGlyphs">More</text>
<text x="89.9" y="524.3" font-size="7.0" fill="#1e1e1e" stroke="#1e1e1e" stroke-width="0.3" textLength="31.2" lengthAdjust="spacingAndGlyphs">windows</text>
<text x="89.9" y="531.8" font-size="7.0" fill="#1e1e1e" stroke="#1e1e1e" stroke-width="0.3" textLength="31.7" lengthAdjust="spacingAndGlyphs">preferred</text>
<line x1="203.3" y1="495" x2="311.7" y2="495" stroke="#ebebeb" stroke-width="1"/>
<line x1="203.3" y1="481.4" x2="311.7" y2="481.4" stroke="#ebebeb" stroke-width="1"/>
<line x1="203.3" y1="467.8" x2="311.7" y2="467.8" stroke="#ebebeb" stroke-width="1"/>
<line x1="203.3" y1="454.2" x2="311.7" y2="454.2" stroke="#ebebeb" stroke-width="1"/>
<line x1="203.3" y1="440.6" x2="311.7" y2="440.6" stroke="#ebebeb" stroke-width="1"/>
<text x="201.8" y="510.8" font-size="4.9" font-weight="bold" fill="#a0a0a0" stroke="#a0a0a0" stroke-width="0.15" text-anchor="end" textLength="8.6" lengthAdjust="spacingAndGlyphs">0.00</text>
<text x="201.8" y="497.2" font-size="4.9" font-weight="bold" fill="#1e1e1e" stroke="#1e1e1e" stroke-width="0.15" text-anchor="end" textLength="8.6" lengthAdjust="spacingAndGlyphs">2.00</text>
<text x="201.8" y="483.6" font-size="4.9" font-weight="bold" fill="#1e1e1e" stroke="#1e1e1e" stroke-width="0.15" text-anchor="end" textLength="8.6" lengthAdjust="spacingAndGlyphs">4.00</text>
<text x="201.8" y="470" font-size="4.9" font-weight="bold" fill="#1e1e1e" stroke="#1e1e1e" stroke-width="0.15" text-anchor="end" textLength="8.6" lengthAdjust="spacingAndGlyphs">6.00</text>
<text x="201.8" y="456.4" font-size="4.9" font-weight="bold" fill="#1e1e1e" stroke="#1e1e1e" stroke-width="0.15" text-anchor="end" textLength="8.6" lengthAdjust="spacingAndGlyphs">8.00</text>
<text x="201.8" y="442.8" font-size="4.9" font-weight="bold" fill="#1e1e1e" stroke="#1e1e1e" stroke-width="0.15" text-anchor="end" textLength="11" lengthAdjust="spacingAndGlyphs">10.00</text>
<line x1="233.5" y1="440.6" x2="233.5" y2="475.62" stroke="#a4a4a4" stroke-width="1.1"/>
<line x1="230.3" y1="475.62" x2="236.7" y2="475.62" stroke="#a4a4a4" stroke-width="1.1"/>
<line x1="230.3" y1="440.6" x2="236.7" y2="440.6" stroke="#a4a4a4" stroke-width="1.1"/>
<rect x="226.85" y="448.53" width="12.7" height="12.83" fill="#c3c4c6" stroke="#bdbdbd" stroke-width="0.5"/>
<line x1="226.6" y1="454.47" x2="239.8" y2="454.47" stroke="#4a4a4a" stroke-width="1.35"/>
<ellipse cx="233.5" cy="489.08" rx="1.45" ry="1.1" fill="#858585"/>
<ellipse cx="233.5" cy="496.09" rx="1.45" ry="1.1" fill="#858585"/>
<ellipse cx="233.5" cy="502.28" rx="1.45" ry="1.1" fill="#858585"/>
<line x1="282.2" y1="440.6" x2="282.2" y2="488.81" stroke="#9c9c9c" stroke-width="1.1"/>
<line x1="279" y1="488.81" x2="285.4" y2="488.81" stroke="#9c9c9c" stroke-width="1.1"/>
<rect x="275.65" y="440.85" width="12.7" height="20.51" fill="#929397" stroke="#8c8c8c" stroke-width="0.5"/>
<line x1="275.4" y1="448.28" x2="288.6" y2="448.28" stroke="#363636" stroke-width="1.35"/>
<ellipse cx="282.2" cy="496.09" rx="1.45" ry="1.1" fill="#858585"/>
<ellipse cx="282.2" cy="502.28" rx="1.45" ry="1.1" fill="#858585"/>
<line x1="203.3" y1="433.4" x2="203.3" y2="509.2" stroke="#a2a2a2" stroke-width="1.2"/>
<line x1="202.7" y1="508.6" x2="311.7" y2="508.6" stroke="#a2a2a2" stroke-width="1.2"/>
<text transform="translate(186.9,472.7) rotate(-90)" font-size="9" fill="#1a1a1a" stroke="#1a1a1a" stroke-width="0.35" text-anchor="middle" textLength="37.2" lengthAdjust="spacingAndGlyphs">Rating of care</text>
<text x="218.2" y="516.3" font-size="7.0" fill="#1e1e1e" stroke="#1e1e1e" stroke-width="0.3" textLength="30.7" lengthAdjust="spacingAndGlyphs">No more</text>
<text x="218.2" y="524.3" font-size="7.0" fill="#1e1e1e" stroke="#1e1e1e" stroke-width="0.3" textLength="31.2" lengthAdjust="spacingAndGlyphs">windows</text>
<text x="217.7" y="531.8" font-size="7.0" fill="#1e1e1e" stroke="#1e1e1e" stroke-width="0.3" textLength="31.7" lengthAdjust="spacingAndGlyphs">preferred</text>
<text x="274.8" y="516.3" font-size="7.0" fill="#1e1e1e" stroke="#1e1e1e" stroke-width="0.3" textLength="18.1" lengthAdjust="spacingAndGlyphs">More</text>
<text x="267.9" y="524.3" font-size="7.0" fill="#1e1e1e" stroke="#1e1e1e" stroke-width="0.3" textLength="31.2" lengthAdjust="spacingAndGlyphs">windows</text>
<text x="267.9" y="531.8" font-size="7.0" fill="#1e1e1e" stroke="#1e1e1e" stroke-width="0.3" textLength="31.9" lengthAdjust="spacingAndGlyphs">preferred</text>
<line x1="370.2" y1="495" x2="478.3" y2="495" stroke="#ebebeb" stroke-width="1"/>
<line x1="370.2" y1="481.4" x2="478.3" y2="481.4" stroke="#ebebeb" stroke-width="1"/>
<line x1="370.2" y1="467.8" x2="478.3" y2="467.8" stroke="#ebebeb" stroke-width="1"/>
<line x1="370.2" y1="454.2" x2="478.3" y2="454.2" stroke="#ebebeb" stroke-width="1"/>
<line x1="370.2" y1="440.6" x2="478.3" y2="440.6" stroke="#ebebeb" stroke-width="1"/>
<text x="368.7" y="510.8" font-size="4.9" font-weight="bold" fill="#a0a0a0" stroke="#a0a0a0" stroke-width="0.15" text-anchor="end" textLength="8.6" lengthAdjust="spacingAndGlyphs">0.00</text>
<text x="368.7" y="497.2" font-size="4.9" font-weight="bold" fill="#1e1e1e" stroke="#1e1e1e" stroke-width="0.15" text-anchor="end" textLength="8.6" lengthAdjust="spacingAndGlyphs">2.00</text>
<text x="368.7" y="483.6" font-size="4.9" font-weight="bold" fill="#1e1e1e" stroke="#1e1e1e" stroke-width="0.15" text-anchor="end" textLength="8.6" lengthAdjust="spacingAndGlyphs">4.00</text>
<text x="368.7" y="470" font-size="4.9" font-weight="bold" fill="#1e1e1e" stroke="#1e1e1e" stroke-width="0.15" text-anchor="end" textLength="8.6" lengthAdjust="spacingAndGlyphs">6.00</text>
<text x="368.7" y="456.4" font-size="4.9" font-weight="bold" fill="#1e1e1e" stroke="#1e1e1e" stroke-width="0.15" text-anchor="end" textLength="8.6" lengthAdjust="spacingAndGlyphs">8.00</text>
<text x="368.7" y="442.8" font-size="4.9" font-weight="bold" fill="#1e1e1e" stroke="#1e1e1e" stroke-width="0.15" text-anchor="end" textLength="11" lengthAdjust="spacingAndGlyphs">10.00</text>
<line x1="400.5" y1="440.6" x2="400.5" y2="475.48" stroke="#a4a4a4" stroke-width="1.1"/>
<line x1="397.3" y1="475.48" x2="403.7" y2="475.48" stroke="#a4a4a4" stroke-width="1.1"/>
<line x1="397.3" y1="440.6" x2="403.7" y2="440.6" stroke="#a4a4a4" stroke-width="1.1"/>
<rect x="394.25" y="448.53" width="12.7" height="12.83" fill="#c3c4c6" stroke="#bdbdbd" stroke-width="0.5"/>
<line x1="394" y1="454.47" x2="407.2" y2="454.47" stroke="#4a4a4a" stroke-width="1.35"/>
<ellipse cx="400.5" cy="488.68" rx="1.45" ry="1.1" fill="#858585"/>
<ellipse cx="400.5" cy="495.27" rx="1.45" ry="1.1" fill="#858585"/>
<ellipse cx="400.5" cy="502" rx="1.45" ry="1.1" fill="#858585"/>
<line x1="449.5" y1="440.6" x2="449.5" y2="488.81" stroke="#9c9c9c" stroke-width="1.1"/>
<line x1="446.3" y1="488.81" x2="452.7" y2="488.81" stroke="#9c9c9c" stroke-width="1.1"/>
<rect x="442.95" y="440.85" width="12.7" height="20.51" fill="#929397" stroke="#8c8c8c" stroke-width="0.5"/>
<line x1="442.7" y1="454.47" x2="455.9" y2="454.47" stroke="#363636" stroke-width="1.35"/>
<ellipse cx="449.5" cy="495.27" rx="1.45" ry="1.1" fill="#858585"/>
<ellipse cx="449.5" cy="502" rx="1.45" ry="1.1" fill="#858585"/>
<line x1="370.2" y1="433.4" x2="370.2" y2="509.2" stroke="#a2a2a2" stroke-width="1.2"/>
<line x1="369.6" y1="508.6" x2="478.3" y2="508.6" stroke="#a2a2a2" stroke-width="1.2"/>
<text transform="translate(356.2,475.3) rotate(-90)" font-size="9" fill="#1a1a1a" stroke="#1a1a1a" stroke-width="0.35" text-anchor="middle" textLength="49.2" lengthAdjust="spacingAndGlyphs">Rating of the room</text>
<text x="386.2" y="516.3" font-size="7.0" fill="#1e1e1e" stroke="#1e1e1e" stroke-width="0.3" textLength="29.9" lengthAdjust="spacingAndGlyphs">No more</text>
<text x="385.2" y="524.3" font-size="7.0" fill="#1e1e1e" stroke="#1e1e1e" stroke-width="0.3" textLength="31.7" lengthAdjust="spacingAndGlyphs">windows</text>
<text x="385.2" y="531.8" font-size="7.0" fill="#1e1e1e" stroke="#1e1e1e" stroke-width="0.3" textLength="31.7" lengthAdjust="spacingAndGlyphs">preferred</text>
<text x="441.6" y="516.3" font-size="7.0" fill="#1e1e1e" stroke="#1e1e1e" stroke-width="0.3" textLength="18" lengthAdjust="spacingAndGlyphs">More</text>
<text x="435.3" y="524.3" font-size="7.0" fill="#1e1e1e" stroke="#1e1e1e" stroke-width="0.3" textLength="31.3" lengthAdjust="spacingAndGlyphs">windows</text>
<text x="434.9" y="531.8" font-size="7.0" fill="#1e1e1e" stroke="#1e1e1e" stroke-width="0.3" textLength="31.7" lengthAdjust="spacingAndGlyphs">preferred</text>
<text x="193.7" y="542.6" font-size="10.0" fill="#1e1e1e" stroke="#1e1e1e" stroke-width="0.27" textLength="79.9" lengthAdjust="spacingAndGlyphs">More windows</text>
</svg>
</body></html>
